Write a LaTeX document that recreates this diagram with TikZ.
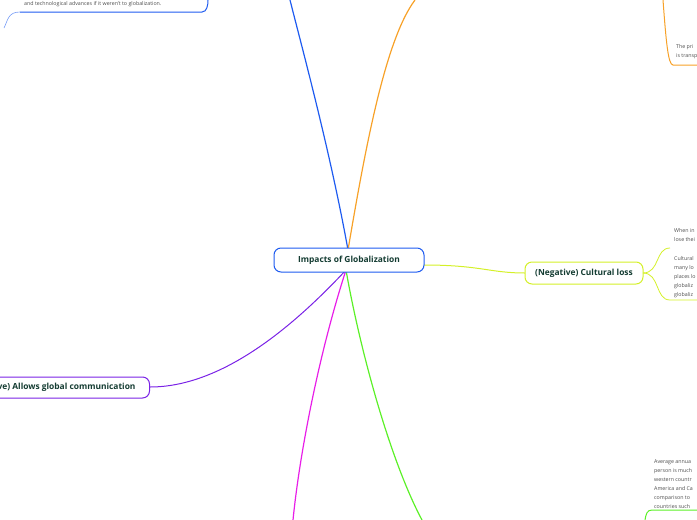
\documentclass[tikz,border=0pt]{standalone}
\usepackage{fontspec}
\setmainfont{Open Sans}
\begin{document}
\begin{tikzpicture}[x=1pt,y=-1pt,
  mainbox/.style={draw=#1,rounded corners=7pt,line width=1pt,fill=white,font=\bfseries\fontsize{8.4}{10}\selectfont,text={rgb,255:red,20;green,60;blue,50},inner sep=0pt},
  small/.style={font=\fontsize{5.3}{9}\selectfont,text=black!70,anchor=west,inner sep=0pt,align=left}]
\useasboundingbox (0,0) rectangle (697,520);
\definecolor{cblue}{HTML}{1E5BF0}\definecolor{corange}{HTML}{F7A128}
\definecolor{clime}{HTML}{D4F028}\definecolor{cpurple}{HTML}{7A22E6}
\definecolor{cmag}{HTML}{E81EE8}\definecolor{cgreen}{HTML}{5CF028}
\coordinate (ctop) at (348,250); \coordinate (cbot) at (346,270);
\draw[cblue,line width=1.2pt] (ctop) .. controls (330,150) and (300,40) .. (290,0);
\draw[corange,line width=1.2pt] (ctop) .. controls (365,150) and (385,40) .. (415,0);
\draw[cpurple,line width=1pt] (cbot) .. controls (290,330) and (220,387) .. (150,387);
\draw[cmag,line width=1.2pt] (cbot) .. controls (320,350) and (300,450) .. (293,520);
\draw[cgreen,line width=1.2pt] (cbot) .. controls (360,350) and (390,460) .. (422,520);
\draw[clime,line width=1pt] (424,265) .. controls (480,265) and (490,273) .. (525,273);
\node[mainbox=cblue,minimum width=150pt,minimum height=24pt] (c) at (349,260) {Impacts of Globalization};
\node[mainbox=clime,minimum width=118pt,minimum height=22pt] (cl) at (584,273) {(Negative) Cultural loss};
\node[mainbox=cpurple,minimum height=21pt,anchor=east,inner xsep=14pt] (gc) at (150,387.5) {(Positive) Allows global communication};
% lime sub branches
\coordinate (cla) at (643,273);
\draw[clime,line width=0.8pt] (cla) .. controls (660,273) and (655,248) .. (670,248);
\draw[clime,line width=0.8pt] (cla) .. controls (660,273) and (655,300) .. (670,300) -- (697,300);
\node[small] (t1) at (674,235) {When in\\lose thei};
\node[small] (t2) at (674,277) {Cultural\\many lo\\places lo\\globaliz\\globaliz};
% blue top-left
\node[small] (tb) at (24,4) {and technological advances if it weren't to globalization.};
\draw[cblue,line width=1pt] (20,12) -- (202,12) .. controls (207,12) and (208,5) .. (208,0);
\draw[cblue!60,line width=0.6pt] (20,12) .. controls (8,12) and (8,20) .. (4,28);
% orange top-right
\draw[corange,line width=1pt] (663,0) .. controls (666,40) and (668,65) .. (673,65) -- (697,65);
\node[small] (to) at (676,52) {The pri\\is transp};
% green bottom-right
\draw[cgreen,line width=1pt] (645,520) .. controls (646,514) and (647,510) .. (652,510) -- (697,510);
\node[small] (tg) at (654,484) {Average annua\\person is much\\western countr\\America and Ca\\comparison to\\countries such};
\end{tikzpicture}
\end{document}
